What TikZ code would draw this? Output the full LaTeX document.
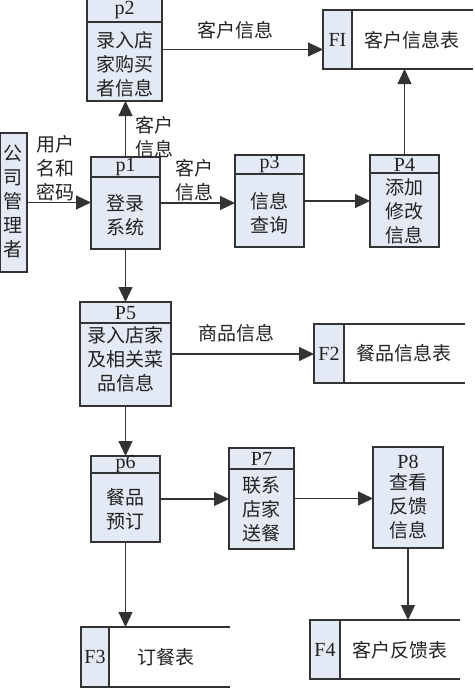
\documentclass[tikz,border=0pt]{standalone}
\usepackage{fontspec}
\setmainfont{Liberation Serif}
\newfontfamily\cjk{Noto Sans CJK SC}
\usetikzlibrary{arrows.meta}
\definecolor{boxfill}{HTML}{E4EAF5}
\definecolor{ln}{HTML}{333333}
\definecolor{tx}{HTML}{222222}
\begin{document}
\begin{tikzpicture}[x=1pt,y=-1pt,
  proc/.style={draw=ln, fill=boxfill, line width=1.2pt, inner sep=0pt, outer sep=0pt},
  idcell/.style={draw=ln, fill=boxfill, line width=1.2pt, inner sep=0pt, outer sep=0pt, anchor=north west, text=tx, font=\fontsize{20}{24}\selectfont},
  txt/.style={font=\cjk\fontsize{19}{24}\selectfont, align=center, inner sep=0pt, text=tx},
  hdr/.style={font=\fontsize{20}{24}\selectfont, inner sep=0pt, text=tx},
  flow/.style={draw=ln, line width=1.2pt, -{Triangle[length=15pt,width=14pt]}},
  edgeline/.style={draw=ln, line width=1.2pt}
]
\useasboundingbox (0,0) rectangle (474,688);

% ---------- actor
\node[proc, minimum width=27pt, minimum height=139pt] (actor) at (13.5,202.5) {};
\node[txt] (actorT) at (13.5,201) {公\\司\\管\\理\\者};

% ---------- processes
\node[proc, minimum width=75pt, minimum height=103pt] (p2) at (124.5,49.5) {};
\draw[edgeline] (p2.west |- 0,22) -- (p2.east |- 0,22);
\node[hdr] (p2h) at (124.5,10) {p2};
\node[txt] (p2b) at (124.5,64) {录入店\\家购买\\者信息};

\node[proc, minimum width=69pt, minimum height=92pt] (p1) at (125.5,203) {};
\draw[edgeline] (p1.west |- 0,177) -- (p1.east |- 0,177);
\node[hdr] (p1h) at (125.5,167) {p1};
\node[txt] (p1b) at (125.5,215) {登录\\系统};

\node[proc, minimum width=69pt, minimum height=92pt] (p3) at (269.5,201) {};
\draw[edgeline] (p3.west |- 0,174) -- (p3.east |- 0,174);
\node[hdr] (p3h) at (269.5,164.5) {p3};
\node[txt] (p3b) at (269.5,213) {信息\\查询};

\node[proc, minimum width=69pt, minimum height=92pt] (P4) at (404.5,201) {};
\draw[edgeline] (P4.west |- 0,173) -- (P4.east |- 0,173);
\node[hdr] (P4h) at (404.5,164.5) {P4};
\node[txt] (P4b) at (404.5,211) {添加\\修改\\信息};

\node[proc, minimum width=91pt, minimum height=104pt] (P5) at (125.5,354) {};
\draw[edgeline] (P5.west |- 0,323) -- (P5.east |- 0,323);
\node[hdr] (P5h) at (125.5,313) {P5};
\node[txt] (P5b) at (125.5,359) {录入店家\\及相关菜\\品信息};

\node[proc, minimum width=69pt, minimum height=86pt] (p6) at (125.5,499) {};
\draw[edgeline] (p6.west |- 0,473) -- (p6.east |- 0,473);
\node[hdr] (p6h) at (125.5,464.5) {p6};
\node[txt] (p6b) at (125.5,509) {餐品\\预订};

\node[proc, minimum width=65pt, minimum height=101pt] (P7) at (261.5,498.5) {};
\draw[edgeline] (P7.west |- 0,469) -- (P7.east |- 0,469);
\node[hdr] (P7h) at (261.5,458.5) {P7};
\node[txt] (P7b) at (261.5,509) {联系\\店家\\送餐};

\node[proc, minimum width=70pt, minimum height=101pt] (P8) at (408,497.5) {};
\node[hdr] (P8h) at (408,462) {P8};
\node[txt] (P8b) at (408,506.5) {查看\\反馈\\信息};

% ---------- data stores
\node[idcell, minimum width=29pt, minimum height=59pt] (FI) at (323,10) {FI};
\draw[edgeline] (FI.north west) -- (473,10);
\draw[edgeline] (FI.south west) -- (473,69);
\node[txt] (FIt) at (412,40) {客户信息表};

\node[idcell, minimum width=30pt, minimum height=59pt] (F2) at (314,324) {F2};
\draw[edgeline] (F2.north west) -- (465,324);
\draw[edgeline] (F2.south west) -- (465,383);
\node[txt] (F2t) at (403.5,353.5) {餐品信息表};

\node[idcell, minimum width=28pt, minimum height=60pt] (F3) at (81,627) {F3};
\draw[edgeline] (F3.north west) -- (230,627);
\draw[edgeline, line width=1.6pt] (F3.south west) -- (230,687);
\node[txt] (F3t) at (166,657) {订餐表};

\node[idcell, minimum width=30pt, minimum height=59pt] (F4) at (310,620) {F4};
\draw[edgeline] (F4.north west) -- (460,620);
\draw[edgeline] (F4.south west) -- (460,679);
\node[txt] (F4t) at (399.5,650) {客户反馈表};

% ---------- flows
\draw[flow] (actor.east) -- (actor.east -| p1.west);
\draw[flow] (p1.north) -- (p1.north |- p2.south);
\draw[flow] (p1.east) -- (p1.east -| p3.west);
\draw[flow] (p3.east) -- (p3.east -| P4.west);
\draw[flow] (P4.north) -- (P4.north |- FI.south);
\draw[flow] (p2.east) -- (p2.east -| FI.west);
\draw[flow] (p1.south) -- (p1.south |- P5.north);
\draw[flow] (P5.east) -- (P5.east -| F2.west);
\draw[flow] (P5.south) -- (P5.south |- p6.north);
\draw[flow] (p6.east) -- (p6.east -| P7.west);
\draw[flow] (P7.east) -- (P7.east -| P8.west);
\draw[flow] (P8.south) -- (P8.south |- F4.north);
\draw[flow] (p6.south) -- (p6.south |- F3.north);

% ---------- flow labels
\node[txt] (l1) at (235,30) {客户信息};
\node[txt] (l2) at (55,168) {用户\\名和\\密码};
\node[txt] (l3) at (154,137) {客户\\信息};
\node[txt] (l4) at (194,180) {客户\\信息};
\node[txt] (l5) at (236,333) {商品信息};
\end{tikzpicture}
\end{document}
